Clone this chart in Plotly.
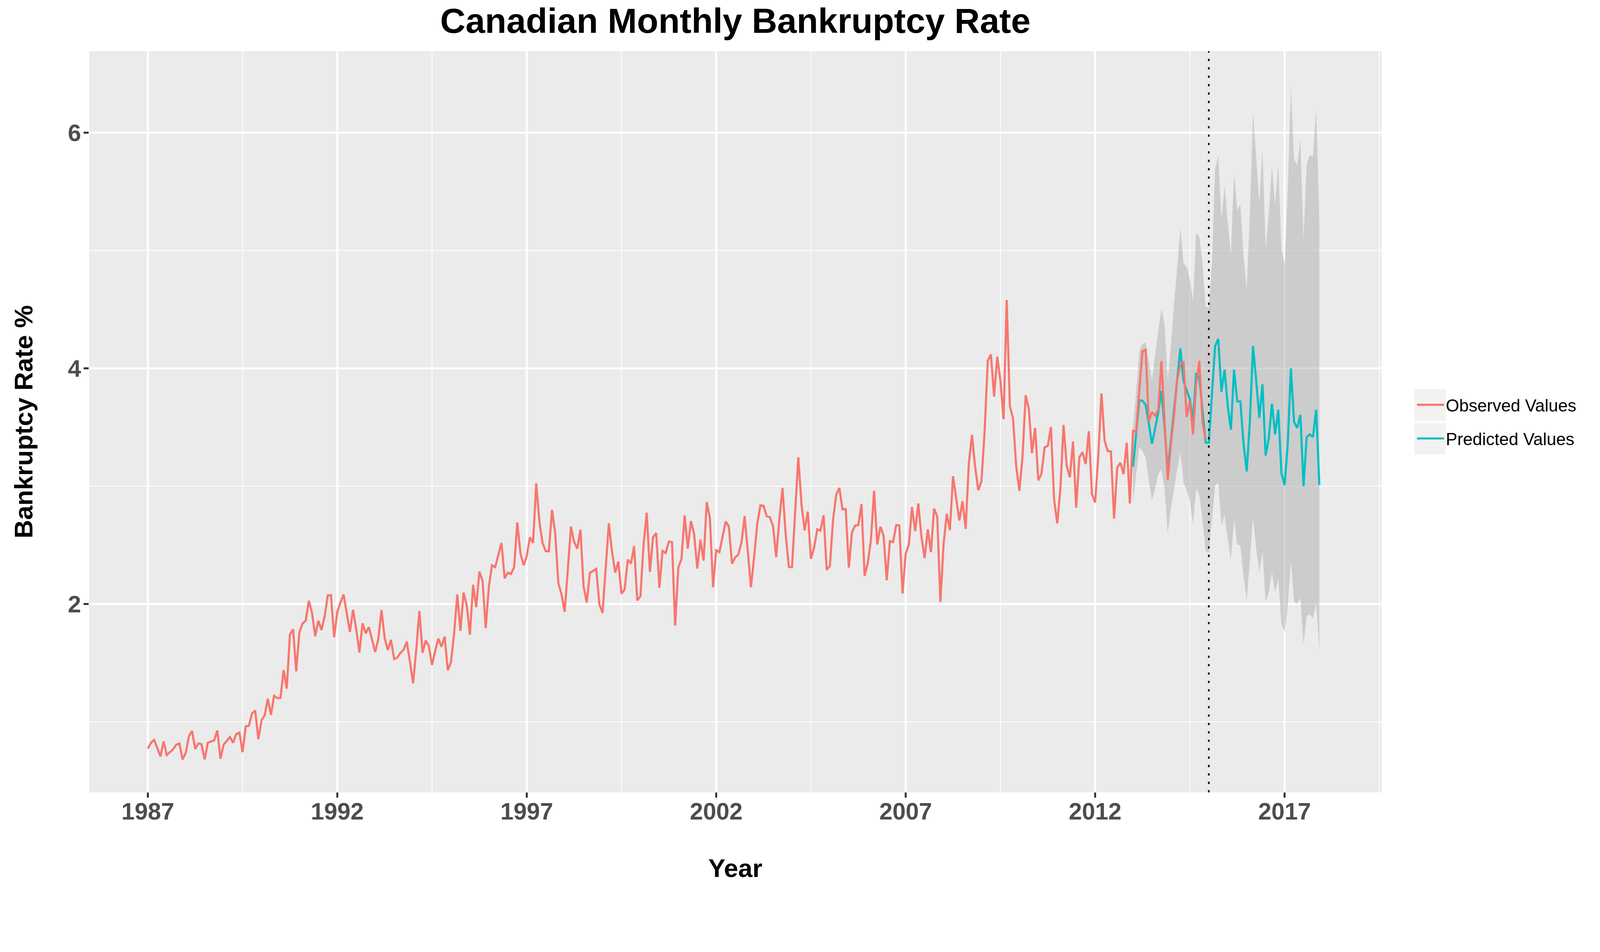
import plotly.graph_objects as go

# ---------------- data ----------------
start_year = 1987          # observed series starts Jan 1987, monthly
pred_start_index = 312     # predicted series starts Jan 2013 (month index from Jan 1987)

observed = [
    0.773, 0.822, 0.847, 0.775, 0.706, 0.834, 0.718, 0.742, 0.767, 0.806, 0.816, 0.681,
    0.736, 0.877, 0.923, 0.769, 0.816, 0.810, 0.681, 0.822, 0.831, 0.843, 0.926, 0.687,
    0.806, 0.840, 0.871, 0.822, 0.896, 0.908, 0.742, 0.961, 0.966, 1.071, 1.096, 0.853,
    1.012, 1.055, 1.196, 1.059, 1.221, 1.202, 1.202, 1.439, 1.282, 1.742, 1.785, 1.429,
    1.761, 1.834, 1.859, 2.028, 1.926, 1.726, 1.859, 1.779, 1.896, 2.074, 2.074, 1.718,
    1.933, 2.012, 2.080, 1.920, 1.763, 1.951, 1.785, 1.589, 1.837, 1.751, 1.804, 1.700,
    1.593, 1.704, 1.949, 1.712, 1.609, 1.696, 1.533, 1.546, 1.585, 1.612, 1.680, 1.514,
    1.328, 1.609, 1.941, 1.585, 1.691, 1.641, 1.483, 1.601, 1.707, 1.638, 1.723, 1.438,
    1.506, 1.752, 2.081, 1.771, 2.097, 1.989, 1.739, 2.163, 1.973, 2.274, 2.198, 1.796,
    2.147, 2.329, 2.313, 2.416, 2.519, 2.218, 2.266, 2.255, 2.313, 2.693, 2.432, 2.329,
    2.408, 2.566, 2.519, 3.025, 2.701, 2.519, 2.448, 2.448, 2.799, 2.606, 2.179, 2.084,
    1.934, 2.290, 2.657, 2.527, 2.469, 2.632, 2.148, 2.013, 2.265, 2.281, 2.299, 1.997,
    1.925, 2.305, 2.686, 2.447, 2.267, 2.359, 2.087, 2.124, 2.377, 2.343, 2.492, 2.031,
    2.066, 2.509, 2.775, 2.273, 2.567, 2.603, 2.138, 2.451, 2.433, 2.530, 2.525, 1.817,
    2.308, 2.384, 2.751, 2.470, 2.705, 2.595, 2.301, 2.546, 2.368, 2.866, 2.730, 2.142,
    2.456, 2.440, 2.571, 2.700, 2.658, 2.343, 2.395, 2.419, 2.522, 2.747, 2.447, 2.142,
    2.398, 2.682, 2.838, 2.833, 2.744, 2.737, 2.661, 2.398, 2.723, 2.986, 2.592, 2.315,
    2.312, 2.799, 3.246, 2.850, 2.625, 2.784, 2.384, 2.478, 2.634, 2.623, 2.754, 2.290,
    2.322, 2.713, 2.929, 2.985, 2.803, 2.807, 2.309, 2.610, 2.666, 2.670, 2.848, 2.239,
    2.347, 2.544, 2.961, 2.506, 2.657, 2.581, 2.202, 2.534, 2.525, 2.670, 2.666, 2.089,
    2.427, 2.503, 2.822, 2.619, 2.854, 2.572, 2.390, 2.634, 2.440, 2.811, 2.741, 2.018,
    2.506, 2.766, 2.628, 3.085, 2.882, 2.709, 2.873, 2.638, 3.192, 3.436, 3.164, 2.966,
    3.041, 3.464, 4.065, 4.118, 3.761, 4.099, 3.896, 3.568, 4.582, 3.680, 3.577, 3.170,
    2.960, 3.250, 3.772, 3.658, 3.281, 3.494, 3.049, 3.103, 3.330, 3.342, 3.502, 2.889,
    2.684, 2.978, 3.520, 3.174, 3.076, 3.379, 2.818, 3.245, 3.289, 3.188, 3.467, 2.933,
    2.862, 3.254, 3.788, 3.387, 3.298, 3.295, 2.725, 3.156, 3.200, 3.102, 3.369, 2.853,
    3.476, 3.458, 3.820, 4.147, 4.158, 3.550, 3.630, 3.598, 3.650, 4.062, 3.560, 3.052,
    3.360, 3.600, 3.902, 4.036, 4.052, 3.588, 3.723, 3.440, 3.868, 4.064, 3.542, 3.395,
]

predicted = [
    3.165, 3.440, 3.730, 3.725, 3.690, 3.530, 3.360, 3.490, 3.630, 3.810, 3.500, 3.130,
    3.400, 3.670, 3.920, 4.170, 3.890, 3.820, 3.740, 3.560, 3.960, 3.920, 3.640, 3.370,
    3.370, 3.800, 4.190, 4.250, 3.800, 3.990, 3.680, 3.480, 3.990, 3.720, 3.720, 3.360,
    3.125, 3.545, 4.190, 3.900, 3.580, 3.865, 3.260, 3.410, 3.700, 3.440, 3.650, 3.110,
    3.010, 3.360, 4.000, 3.545, 3.495, 3.605, 3.000, 3.417, 3.440, 3.417, 3.650, 3.010,
]

upper = [
    3.500, 3.800, 4.150, 4.210, 4.220, 4.060, 3.900, 4.120, 4.310, 4.510, 4.370, 3.900,
    4.200, 4.550, 4.860, 5.190, 4.890, 4.860, 4.760, 4.570, 5.150, 5.120, 4.890, 4.520,
    4.520, 4.890, 5.700, 5.800, 5.260, 5.550, 5.240, 4.960, 5.670, 5.340, 5.390, 4.960,
    4.670, 5.290, 6.170, 5.780, 5.410, 5.850, 5.020, 5.310, 5.720, 5.390, 5.740, 5.010,
    4.890, 5.490, 6.390, 5.770, 5.730, 5.940, 5.090, 5.740, 5.810, 5.800, 6.200, 5.260,
]

lower = [
    2.870, 3.100, 3.330, 3.300, 3.245, 3.050, 2.880, 2.980, 3.100, 3.140, 2.980, 2.600,
    2.815, 2.975, 3.140, 3.290, 3.030, 2.965, 2.880, 2.672, 2.980, 2.920, 2.720, 2.445,
    2.435, 2.720, 3.005, 3.030, 2.670, 2.755, 2.550, 2.375, 2.720, 2.500, 2.500, 2.235,
    2.030, 2.370, 2.740, 2.470, 2.270, 2.450, 2.020, 2.100, 2.270, 2.100, 2.220, 1.830,
    1.760, 1.980, 2.370, 2.020, 2.000, 2.050, 1.660, 1.900, 1.910, 1.880, 2.000, 1.610,
]

forecast_origin = 2015      # dotted reference line
x_tick_values = [1987, 1992, 1997, 2002, 2007, 2012, 2017]
y_tick_values = [2, 4, 6]

obs_x = [start_year + i / 12 for i in range(len(observed))]
pred_x = [start_year + (pred_start_index + i) / 12 for i in range(len(predicted))]

# ---------------- figure ----------------
RED = "#F8766D"
CYAN = "#00BFC4"
FONT = "Liberation Sans"
W, H = 4380, 2436
LINE_W = 5.8

fig = go.Figure()

fig.add_trace(go.Scatter(
    x=pred_x, y=lower, mode="lines", line=dict(width=0, color="rgba(0,0,0,0)"),
    showlegend=False, hoverinfo="skip"))
fig.add_trace(go.Scatter(
    x=pred_x, y=upper, mode="lines", line=dict(width=0, color="rgba(0,0,0,0)"),
    fill="tonexty", fillcolor="rgba(173,173,173,0.5)",
    showlegend=False, hoverinfo="skip"))
fig.add_trace(go.Scatter(
    x=pred_x, y=predicted, mode="lines", name="Predicted Values",
    line=dict(color=CYAN, width=LINE_W), legendgroup="pred", legendrank=2))
fig.add_trace(go.Scatter(
    x=obs_x, y=observed, mode="lines", name="Observed Values",
    line=dict(color=RED, width=LINE_W), legendgroup="obs", legendrank=1))

plot_l, plot_r, plot_t, plot_b = 244, 3782, 140, 2168
pw, ph = plot_r - plot_l, plot_b - plot_t

def px_x(p):
    return (p - plot_l) / pw

def px_y(p):
    return (plot_b - p) / ph

shapes = [
    dict(type="line", xref="x", yref="paper", x0=forecast_origin, x1=forecast_origin,
         y0=0, y1=1, line=dict(color="black", width=4.5, dash="6px,17px"), layer="above"),
    dict(type="rect", xref="paper", yref="paper", x0=px_x(3872), x1=px_x(3958),
         y0=px_y(1152), y1=px_y(1065), fillcolor="#F2F2F2", line=dict(width=0), layer="below"),
    dict(type="rect", xref="paper", yref="paper", x0=px_x(3872), x1=px_x(3958),
         y0=px_y(1243), y1=px_y(1158), fillcolor="#F2F2F2", line=dict(width=0), layer="below"),
]

fig.update_layout(
    width=W, height=H,
    margin=dict(l=plot_l, r=W - plot_r, t=plot_t, b=H - plot_b, pad=0),
    paper_bgcolor="white", plot_bgcolor="#EBEBEB",
    font=dict(family=FONT, color="black"),
    title=dict(text="Canadian Monthly Bankruptcy Rate", x=0.5, xref="paper",
               y=1 - 56 / H, yref="container", xanchor="center", yanchor="middle",
               font=dict(family=FONT, size=96, color="black", weight="bold")),
    shapes=shapes,
    showlegend=True,
    legend=dict(x=px_x(3874), xanchor="left", y=0.5, yanchor="middle",
                bgcolor="rgba(0,0,0,0)", borderwidth=0, tracegroupgap=28,
                itemwidth=74,
                font=dict(family=FONT, size=47, color="black")),
    xaxis=dict(
        range=[1985.451, 2019.559], tickmode="array", tickvals=x_tick_values,
        ticktext=[str(v) for v in x_tick_values],
        ticks="outside", ticklen=14, tickwidth=5, tickcolor="#333333",
        ticklabelstandoff=-19,
        tickfont=dict(family=FONT, size=65, color="#4D4D4D", weight="bold"),
        showgrid=True, gridcolor="white", gridwidth=5, zeroline=False, showline=False,
        minor=dict(tick0=1987, dtick=2.5, showgrid=True, gridcolor="white",
                   gridwidth=2.5, ticks=""),
        title=dict(text="Year", standoff=95,
                   font=dict(family=FONT, size=70, color="black", weight="bold")),
        automargin=False,
    ),
    yaxis=dict(
        range=[0.4015, 6.693], tickmode="array", tickvals=y_tick_values,
        ticktext=[str(v) for v in y_tick_values],
        ticks="outside", ticklen=14, tickwidth=5, tickcolor="#333333",
        ticklabelstandoff=-6,
        tickfont=dict(family=FONT, size=65, color="#4D4D4D", weight="bold"),
        showgrid=True, gridcolor="white", gridwidth=5, zeroline=False, showline=False,
        minor=dict(tick0=0, dtick=1, showgrid=True, gridcolor="white",
                   gridwidth=2.5, ticks=""),
        title=dict(text="Bankruptcy Rate %", standoff=73,
                   font=dict(family=FONT, size=70, color="black", weight="bold")),
        automargin=False,
    ),
)

# Fit the fixed-size figure exactly to the browser viewport (removes body margin
# and compensates for any device-pixel scaling so nothing is cut off).
fit_script = (
    "var gd = document.getElementById('{plot_id}');"
    "document.documentElement.style.margin='0';"
    "document.body.style.margin='0';"
    "document.body.style.overflow='hidden';"
    "var s = Math.min(window.innerWidth/%d, window.innerHeight/%d);"
    "gd.style.transformOrigin='0 0';"
    "gd.style.transform='scale(' + s + ')';" % (W, H)
)

fig.write_html("out.html", post_script=fit_script,
               config={"displayModeBar": False, "staticPlot": True})
